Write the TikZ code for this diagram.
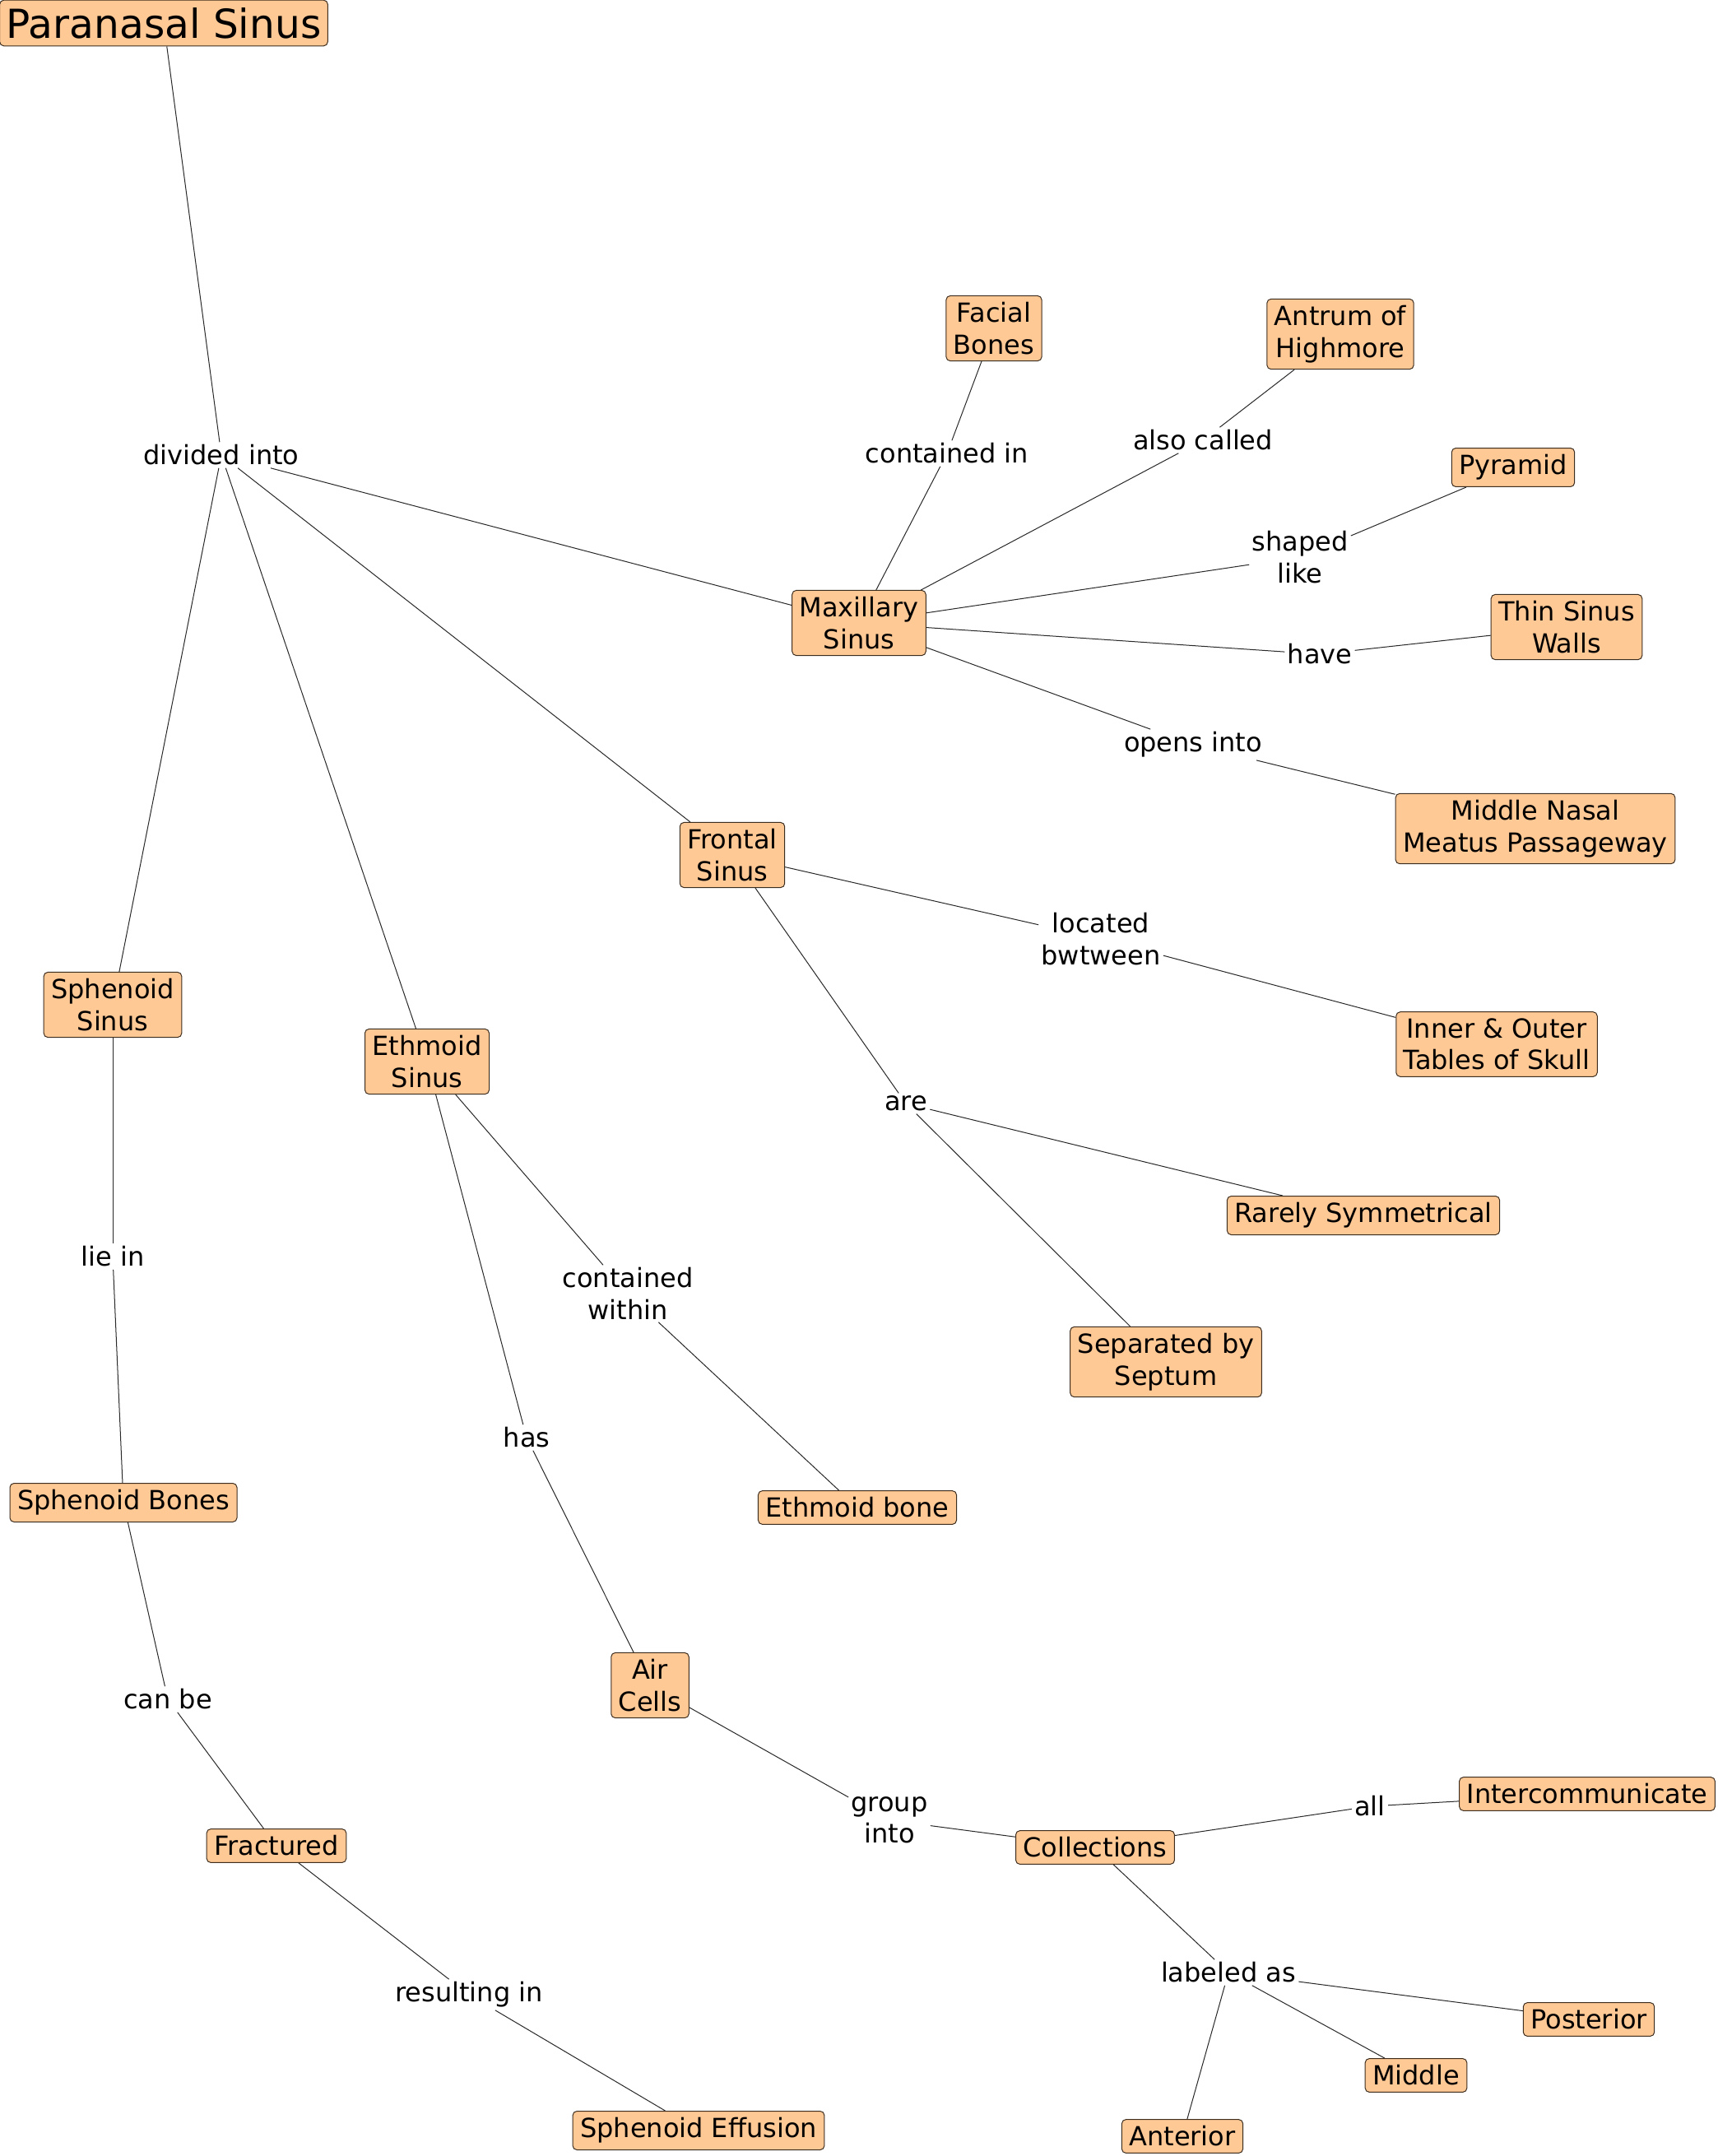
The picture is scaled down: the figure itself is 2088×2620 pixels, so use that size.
\documentclass[tikz,border=0pt]{standalone}
\usepackage{fontspec}
\setmainfont{DejaVu Sans}
\definecolor{boxfill}{RGB}{255,201,150}
\definecolor{boxline}{RGB}{60,45,30}
\definecolor{edgecol}{RGB}{40,40,40}
\begin{document}
\begin{tikzpicture}[x=0.5pt,y=-0.5pt,
  concept/.style={draw=boxline,fill=boxfill,rounded corners=2.5pt,line width=0.5pt,
    inner xsep=4.5pt,inner ysep=4pt,align=center,font=\fontsize{16}{19.2}\selectfont},
  lbl/.style={inner sep=1.5pt,align=center,font=\fontsize{16}{19.2}\selectfont},
  link/.style={draw=edgecol,line width=0.5pt}]
\useasboundingbox (0,0) rectangle (2088,2620);
% concepts
\node[concept,font=\fontsize{24.3}{28}\selectfont,inner ysep=4.5pt,inner xsep=4pt] (ps) at (199,28) {Paranasal Sinus};
\node[concept] (max) at (1044,757) {Maxillary\\Sinus};
\node[concept] (fb) at (1208,399) {Facial\\Bones};
\node[concept] (ah) at (1629,406) {Antrum of\\Highmore};
\node[concept] (pyr) at (1839,568) {Pyramid};
\node[concept] (tsw) at (1904,762) {Thin Sinus\\Walls};
\node[concept] (mnm) at (1866,1007) {Middle Nasal\\Meatus Passageway};
\node[concept] (fs) at (890,1039) {Frontal\\Sinus};
\node[concept] (io) at (1819,1269) {Inner \& Outer\\Tables of Skull};
\node[concept] (rs) at (1657,1477) {Rarely Symmetrical};
\node[concept] (sep) at (1417,1655) {Separated by\\Septum};
\node[concept] (ss) at (137,1221) {Sphenoid\\Sinus};
\node[concept] (es) at (519,1290) {Ethmoid\\Sinus};
\node[concept] (eb) at (1042,1832) {Ethmoid bone};
\node[concept] (sb) at (150,1826) {Sphenoid Bones};
\node[concept] (ac) at (790,2048) {Air\\Cells};
\node[concept] (col) at (1331,2245) {Collections};
\node[concept] (ic) at (1929,2180) {Intercommunicate};
\node[concept] (fr) at (336,2243) {Fractured};
\node[concept] (post) at (1931,2454) {Posterior};
\node[concept] (mid) at (1721,2522) {Middle};
\node[concept] (ant) at (1437,2596) {Anterior};
\node[concept] (se) at (849,2589) {Sphenoid Effusion};
% linking phrases
\node[lbl] (l1) at (269,553) {divided into};
\node[lbl] (l2) at (1151,551) {contained in};
\node[lbl] (l3) at (1462,535) {also called};
\node[lbl] (l4) at (1580,677) {shaped\\like};
\node[lbl] (l5) at (1604,795) {have};
\node[lbl] (l6) at (1450,905) {opens into};
\node[lbl] (l7) at (1338,1141) {located\\bwtween};
\node[lbl] (l8) at (1101,1341) {are};
\node[lbl] (l9) at (137,1527) {lie in};
\node[lbl] (l10) at (763,1572) {contained\\within};
\node[lbl] (l11) at (640,1747) {has};
\node[lbl] (l12) at (204,2065) {can be};
\node[lbl] (l13) at (1081,2212) {group\\into};
\node[lbl] (l14) at (1665,2195) {all};
\node[lbl] (l15) at (1493,2397) {labeled as};
\node[lbl] (l16) at (570,2424) {resulting in};
% connectors
\draw[link] (ps) -- (l1);
\draw[link] (l1) -- (max);
\draw[link] (l1) -- (fs);
\draw[link] (l1) -- (es);
\draw[link] (l1) -- (ss);
\draw[link] (max) -- (l2); \draw[link] (l2) -- (fb);
\draw[link] (max) -- (l3); \draw[link] (l3) -- (ah);
\draw[link] (max) -- (l4); \draw[link] (l4) -- (pyr);
\draw[link] (max) -- (l5); \draw[link] (l5) -- (tsw);
\draw[link] (max) -- (l6); \draw[link] (l6) -- (mnm);
\draw[link] (fs) -- (l7); \draw[link] (l7) -- (io);
\draw[link] (fs) -- (l8); \draw[link] (l8) -- (rs); \draw[link] (l8) -- (sep);
\draw[link] (ss) -- (l9); \draw[link] (l9) -- (sb);
\draw[link] (sb) -- (l12); \draw[link] (l12) -- (fr);
\draw[link] (fr) -- (l16); \draw[link] (l16) -- (se);
\draw[link] (es) -- (l10); \draw[link] (l10) -- (eb);
\draw[link] (es) -- (l11); \draw[link] (l11) -- (ac);
\draw[link] (ac) -- (l13); \draw[link] (l13) -- (col);
\draw[link] (col) -- (l14); \draw[link] (l14) -- (ic);
\draw[link] (col) -- (l15); \draw[link] (l15) -- (post); \draw[link] (l15) -- (mid); \draw[link] (l15) -- (ant);
\end{tikzpicture}
\end{document}
